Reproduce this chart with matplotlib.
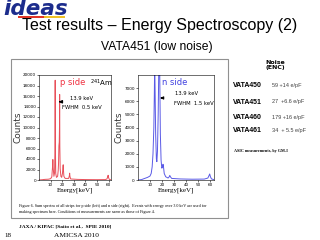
import matplotlib
matplotlib.use("Agg")
import matplotlib.pyplot as plt
from matplotlib.patches import Rectangle

# spectra (energy in keV, counts)
p_energy = [0, 3, 5, 8, 10, 11, 11.6, 11.9, 12.2, 12.8, 13.4, 13.7, 13.9, 14.1, 14.4,
            15.0, 16.0, 16.5, 16.8, 17.1, 17.4, 17.6, 17.75, 17.9, 18.2, 18.8, 19.5,
            20.2, 20.6, 20.8, 21.0, 21.4, 22.5, 25.5, 26.1, 26.35, 26.6, 27.2, 33, 40,
            50, 57, 58.5, 59.2, 59.5, 59.8, 60.5, 62]
p_counts = [0, 60, 120, 150, 250, 600, 2500, 3900, 2300, 700, 1400, 6000, 19000, 6000,
            1200, 500, 700, 1800, 3200, 6500, 7200, 10000, 16300, 6500, 2200, 700, 500,
            1300, 2500, 2900, 2000, 700, 300, 300, 800, 1300, 700, 200, 120, 80, 60, 80,
            200, 700, 900, 500, 120, 40]

n_energy = [0, 3, 5, 8, 10, 11, 11.8, 12.5, 13.2, 13.6, 13.9, 14.2, 14.7, 15.3, 15.7,
            16.2, 16.8, 17.3, 17.7, 18.1, 18.6, 19.2, 19.8, 20.4, 20.8, 21.2, 21.8, 23,
            25, 26, 26.4, 26.9, 28, 35, 45, 55, 58, 59, 59.5, 60.1, 61, 63]
n_counts = [0, 30, 100, 200, 300, 500, 1000, 2000, 4000, 6500, 9000, 7000, 3500, 1600,
            1400, 2200, 5000, 8500, 9500, 8000, 3500, 1500, 900, 1000, 1200, 1000, 500,
            250, 150, 250, 350, 250, 120, 80, 60, 70, 150, 350, 460, 250, 80, 30]

asic_names = ["VATA450", "VATA451", "VATA460", "VATA461"]
asic_noise = ["59 +14 e/pF", "27  +6.6 e/pF", "179 +16 e/pF", "34  + 5.5 e/pF"]

fig = plt.figure(figsize=(3.2, 2.4), dpi=100)

# logo and titles
fig.add_artist(plt.Line2D([0.06, 0.14], [0.93, 0.93], color="#e03020", lw=1.4))
fig.add_artist(plt.Line2D([0.14, 0.2], [0.93, 0.93], color="#f0c020", lw=1.4))
fig.text(0.012, 1.005, "ideas", fontsize=15.5, fontweight="bold", style="italic",
         color="#1c2c8c", va="top", ha="left")
fig.text(0.5, 0.893, "Test results \u2013 Energy Spectroscopy (2)", fontsize=11.5,
         ha="center", va="center", family="Liberation Sans")
fig.text(0.49, 0.806, "VATA451 (low noise)", fontsize=8.7, ha="center", va="center",
         family="Liberation Sans")

# paper figure frame
fig.add_artist(Rectangle((0.034, 0.092), 0.678, 0.662, transform=fig.transFigure,
                         fill=False, edgecolor="#909090", lw=0.8))

tick_kw = dict(labelsize=3, length=1.2, width=0.4, pad=1)
lab_kw = dict(family="Liberation Serif")

ax1 = fig.add_axes([0.122, 0.25, 0.225, 0.4375])
ax1.plot(p_energy, p_counts, color="#e8505a", lw=0.7)
ax1.set_xlim(0, 62)
ax1.set_ylim(0, 20000)
ax1.set_xticks(range(10, 61, 10))
ax1.set_yticks(range(0, 20001, 2000))
ax1.tick_params(**tick_kw)
ax1.set_ylabel("Counts", fontsize=6.5, labelpad=0.5, color="#333333")
ax1.set_xlabel("Energy[keV]", fontsize=5, labelpad=0.5, **lab_kw)
ax1.text(0.47, 0.93, "p side", color="#f03040", fontsize=6, transform=ax1.transAxes,
         ha="center", va="center")
ax1.text(0.87, 0.92, "$^{241}$Am", fontsize=5, transform=ax1.transAxes,
         ha="center", va="center")
ax1.text(0.43, 0.78, "13.9 keV", fontsize=3.8, transform=ax1.transAxes, ha="left", va="center")
ax1.text(0.32, 0.695, "FWHM  0.5 keV", fontsize=3.8, transform=ax1.transAxes, ha="left", va="center")
ax1.annotate("", xy=(14.5, 14900), xytext=(20.7, 14900),
             arrowprops=dict(arrowstyle="-|>", color="black", lw=1.0, mutation_scale=4))

ax2 = fig.add_axes([0.431, 0.25, 0.2375, 0.4375])
ax2.plot(n_energy, n_counts, color="#5a5ae6", lw=0.7)
ax2.set_xlim(0, 63)
ax2.set_ylim(0, 8000)
ax2.set_xticks(range(10, 61, 10))
ax2.set_yticks(range(0, 7001, 1000))
ax2.tick_params(**tick_kw)
ax2.set_ylabel("Counts", fontsize=6.5, labelpad=0.5, color="#333333")
ax2.set_xlabel("Energy[keV]", fontsize=5, labelpad=0.5, **lab_kw)
ax2.text(0.49, 0.93, "n side", color="#4040e0", fontsize=6, transform=ax2.transAxes,
         ha="center", va="center")
ax2.text(0.49, 0.82, "13.9 keV", fontsize=3.8, transform=ax2.transAxes, ha="left", va="center")
ax2.text(0.47, 0.73, "FWHM  1.5 keV", fontsize=3.8, transform=ax2.transAxes, ha="left", va="center")
ax2.annotate("", xy=(16.2, 6250), xytext=(22.4, 6250),
             arrowprops=dict(arrowstyle="-|>", color="black", lw=0.8, mutation_scale=4))

for ax in (ax1, ax2):
    for s in ax.spines.values():
        s.set_linewidth(0.4)

# caption of the paper figure
fig.text(0.06, 0.138, "Figure 6. Sum spectra of all strips for p side (left) and n side (right).  "
         "Events with energy over 3.0 keV are used for", fontsize=3.0, **lab_kw)
fig.text(0.06, 0.112, "making spectrum here. Conditions of measurements are same as those of Figure 4.",
         fontsize=3.0, **lab_kw)

# noise table
fig.text(0.86, 0.73, "Noise\n(ENC)", fontsize=4.5, fontweight="bold", ha="center", va="center",
         linespacing=1.0)
rows_y = [0.645, 0.575, 0.51, 0.455]
for name, val, y in zip(asic_names, asic_noise, rows_y):
    fig.text(0.728, y, name, fontsize=5, fontweight="bold", va="center", family="Liberation Sans")
    fig.text(0.85, y, val, fontsize=4, va="center", color="#404040", family="Liberation Sans")
fig.text(0.73, 0.37, "ASIC measurements, by GM-I", fontsize=3, fontweight="bold",
         va="center", **lab_kw)

# footer
fig.text(0.06, 0.058, "JAXA / KIPAC [Saito et al.,  SPIE 2010]", fontsize=3.9, fontweight="bold",
         va="center", **lab_kw)
fig.text(0.015, 0.02, "18", fontsize=5, va="center", **lab_kw)
fig.text(0.17, 0.02, "AMICSA 2010", fontsize=5.3, va="center", **lab_kw)

fig.savefig("out.png", dpi=100)
